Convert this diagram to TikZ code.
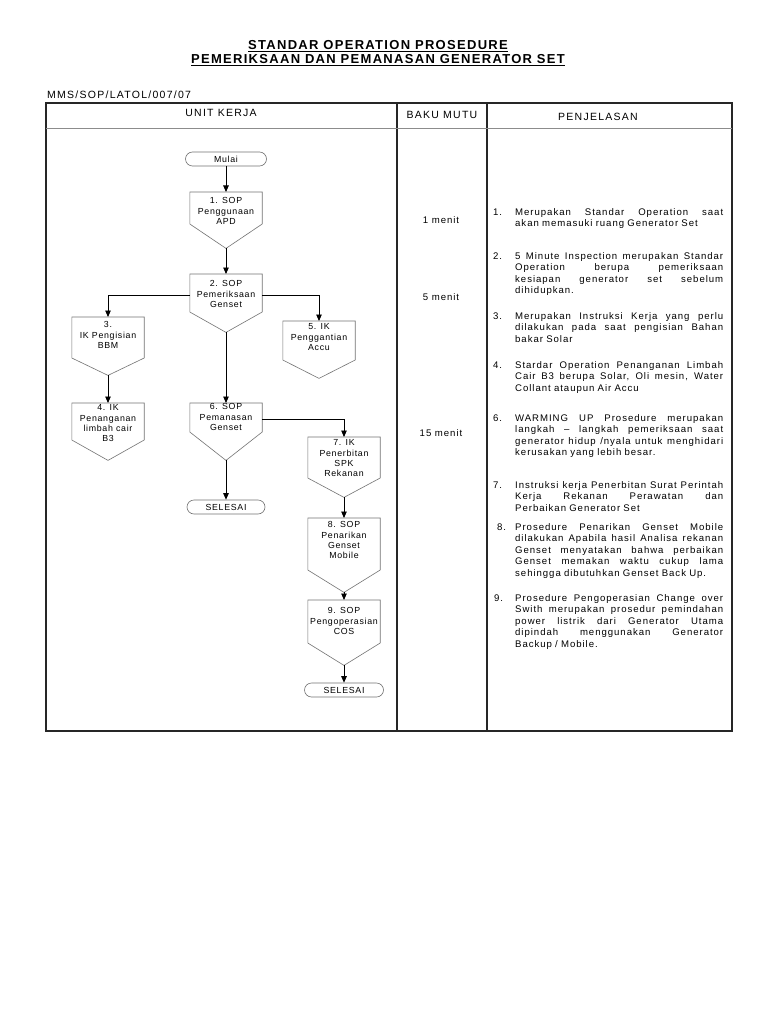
\documentclass[tikz,border=0pt]{standalone}
\usepackage{fontspec}
\setmainfont{Liberation Sans}
\newfontfamily\spfont[LetterSpace=10]{Liberation Sans}
\newfontfamily\nfont[LetterSpace=8]{Liberation Sans}
\newfontfamily\hfont[LetterSpace=12]{Liberation Sans}
\usetikzlibrary{arrows.meta,calc}
% #1 name, #2 cx, #3 top, #4 side height, #5 total height, #6 first text line offset, #7 text
\newcommand\pent[7]{%
  \node[anchor=north, minimum width=72, minimum height=#5, inner sep=0pt] (#1) at (#2,#3) {};
  \draw[boxline] (#1.north west) -- (#1.north east) -- ($(#1.north east)+(0,#4)$) -- (#1.south) -- ($(#1.north west)+(0,#4)$) -- cycle;
  \node[ntext, anchor=north] (#1t) at ($(#1.north)+(0,#6-3.4)$) {#7};
}
% #1 name, #2 number, #3 y (centre of first line), #4 x of number, #5 lines
\newcommand\expl[5]{%
  \node[etext, anchor=west] (#1n) at (#4,#3) {#2};
  \node[etext, anchor=north west, text width=208, align=left] (#1) at (515,#3-3.6) {#5};
}
\newcommand\jl[1]{\makebox[208pt][s]{\spaceskip=0pt\relax #1}}
\begin{document}
\begin{tikzpicture}[x=1pt,y=-1pt,
  boxline/.style={draw=black!55, line width=0.6pt},
  frame/.style={line width=1.3pt, draw=black!85},
  arr/.style={-{Triangle[length=6.5pt,width=5.5pt]}, line width=0.9pt},
  term/.style={draw=black!55, line width=0.6pt, rounded corners=7pt, minimum height=14, inner sep=0pt, font=\fontsize{8.8}{10}\nfont},
  ntext/.style={align=center, inner sep=0pt, font=\fontsize{8.8}{10.2}\nfont},
  etext/.style={inner sep=0pt, font=\fontsize{9.6}{11.4}\spfont},
  htext/.style={inner sep=0pt, font=\fontsize{10.5}{12}\hfont},
  ttext/.style={inner sep=0pt, font=\fontsize{13}{15}\spfont\bfseries}
]
\useasboundingbox (0,0) rectangle (768,1024);
\fill[white] (0,0) rectangle (768,1024);

% title
\node[ttext] (title1) at (378,46) {\underline{STANDAR OPERATION PROSEDURE}};
\node[ttext] (title2) at (378,60) {\underline{PEMERIKSAAN DAN PEMANASAN GENERATOR SET}};
\node[htext, anchor=west] (code) at (47,95) {MMS/SOP/LATOL/007/07};

% table
\draw[frame] (46,103) rectangle (732,731);
\draw[frame] (397,103) -- (397,731);
\draw[frame] (487,103) -- (487,731);
\draw[black!45, line width=0.8pt] (46,128) -- (732,128);
\node[htext] (h1) at (221,113) {UNIT KERJA};
\node[htext] (h2) at (442,115) {BAKU MUTU};
\node[htext] (h3) at (598,117) {PENJELASAN};

% baku mutu
\node[etext] (b1) at (441,220) {1 menit};
\node[etext] (b2) at (441,297) {5 menit};
\node[etext] (b3) at (441,433) {15 menit};

% flowchart
\node[term, minimum width=81] (mulai) at (226,159) {Mulai};
\pent{n1}{226}{192}{32}{56}{9}{1. SOP\\Penggunaan\\APD}
\pent{n2}{226}{274}{38}{58}{10}{2. SOP\\Pemeriksaan\\Genset}
\pent{n3}{108}{317}{41}{58}{8}{3.\\IK Pengisian\\BBM}
\pent{n5}{319}{321}{39}{57}{6}{5. IK\\Penggantian\\Accu}
\pent{n4}{108}{403}{37}{57}{5}{4. IK\\Penanganan\\limbah cair\\B3}
\pent{n6}{226}{403}{29}{57}{4}{6. SOP\\Pemanasan\\Genset}
\pent{n7}{344}{437}{41}{60}{6}{7. IK\\Penerbitan\\SPK\\Rekanan}
\pent{n8}{344}{518}{52}{74}{7}{8. SOP\\Penarikan\\Genset\\Mobile}
\pent{n9}{344}{600}{43}{65}{11}{9. SOP\\Pengoperasian\\COS}
\node[term, minimum width=78] (sel1) at (226,507) {SELESAI};
\node[term, minimum width=79] (sel2) at (344,690) {SELESAI};

\draw[arr] (mulai.south) -- (n1.north);
\draw[arr] (n1.south) -- (n2.north);
\draw[arr] ($(n2.north west)+(0,21)$) -| (n3.north);
\draw[arr] ($(n2.north east)+(0,21)$) -| (n5.north);
\draw[arr] (n2.south) -- (n6.north);
\draw[arr] (n3.south) -- (n4.north);
\draw[arr] (n6.south) -- (sel1.north);
\draw[arr] ($(n6.north east)+(0,16)$) -| (n7.north);
\draw[arr] (n7.south) -- (n8.north);
\draw[arr] (n8.south) -- (n9.north);
\draw[arr] (n9.south) -- (sel2.north);

% penjelasan
\expl{e1}{1.}{212}{493}{\jl{Merupakan Standar Operation saat}\\akan memasuki ruang Generator Set}
\expl{e2}{2.}{256}{493}{\jl{5 Minute Inspection merupakan Standar}\\\jl{Operation berupa pemeriksaan}\\\jl{kesiapan generator set sebelum}\\dihidupkan.}
\expl{e3}{3.}{316}{493}{\jl{Merupakan Instruksi Kerja yang perlu}\\\jl{dilakukan pada saat pengisian Bahan}\\bakar Solar}
\expl{e4}{4.}{365}{493}{\jl{Stardar Operation Penanganan Limbah}\\\jl{Cair B3 berupa Solar, Oli mesin, Water}\\Collant ataupun Air Accu}
\expl{e6}{6.}{418}{493}{\jl{WARMING UP Prosedure merupakan}\\\jl{langkah – langkah pemeriksaan saat}\\\jl{generator hidup /nyala untuk menghidari}\\kerusakan yang lebih besar.}
\expl{e7}{7.}{485}{493}{\jl{Instruksi kerja Penerbitan Surat Perintah}\\\jl{Kerja Rekanan Perawatan dan}\\Perbaikan Generator Set}
\expl{e8}{8.}{527}{497}{\jl{Prosedure Penarikan Genset Mobile}\\\jl{dilakukan Apabila hasil Analisa rekanan}\\\jl{Genset menyatakan bahwa perbaikan}\\\jl{Genset memakan waktu cukup lama}\\sehingga dibutuhkan Genset Back Up.}
\expl{e9}{9.}{598}{494}{\jl{Prosedure Pengoperasian Change over}\\\jl{Swith merupakan prosedur pemindahan}\\\jl{power listrik dari Generator Utama}\\\jl{dipindah menggunakan Generator}\\Backup / Mobile.}
\end{tikzpicture}
\end{document}
